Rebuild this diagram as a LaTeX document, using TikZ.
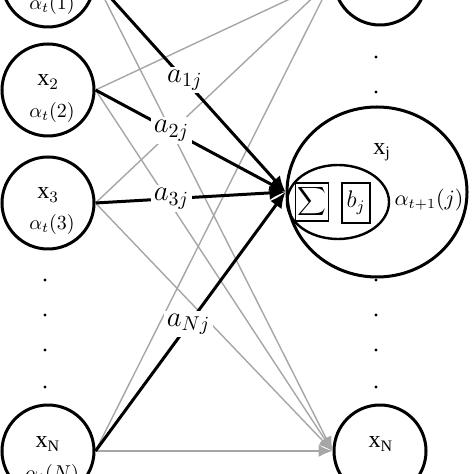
\documentclass[tikz,border=0pt]{standalone}
\usepackage{fontspec}
\setmainfont{Liberation Serif}
\usetikzlibrary{arrows.meta,shapes.geometric}

\begin{document}
\begin{tikzpicture}[x=0.5pt,y=-0.5pt,
    state/.style={draw,circle,line width=1.5pt,minimum size=46pt,inner sep=0pt},
    coef/.style={fill=white,inner sep=1.5pt,font=\fontsize{14.5}{16}\selectfont},
    lbl/.style={inner sep=0pt,font=\fontsize{12}{14}\selectfont},
    prob/.style={inner sep=0pt,font=\fontsize{10}{12}\selectfont},
    thickarr/.style={line width=1.5pt,-{Latex[length=8pt,width=7pt]}},
    grayarr/.style={draw=gray!70,line width=0.7pt,-{Latex[length=7pt,width=6pt,fill=gray!70]}},
    grayline/.style={draw=gray!70,line width=0.7pt},
    opbox/.style={draw,line width=0.8pt,inner sep=1pt}]
    \clip (0,0) rectangle (474,474);
    % left column
    \node[state] (x1) at (48,-19) {};
    \node[state] (x2) at (48,90) {};
    \node[state] (x3) at (48,203) {};
    \node[state] (xN) at (48,451) {};
    \node[lbl] (x1name) at (48,-26) {x$_1$};
    \node[prob] (x1prob) at (52,5) {$\alpha_t(1)$};
    \node[lbl] (x2name) at (48,82) {x$_2$};
    \node[prob] (x2prob) at (52,113) {$\alpha_t(2)$};
    \node[lbl] (x3name) at (48,195) {x$_3$};
    \node[prob] (x3prob) at (52,225) {$\alpha_t(3)$};
    \node[lbl] (xNname) at (48,444) {x$_\mathrm{N}$};
    \node[prob] (xNprob) at (52,474) {$\alpha_t(N)$};
    % right column
    \node[state] (y1) at (380,-21) {};
    \node[state] (yN) at (380,451) {};
    \node[lbl] (yNname) at (381,444) {x$_\mathrm{N}$};
    \node[draw,ellipse,line width=1.5pt,minimum width=90pt,minimum height=85pt,inner sep=0pt] (xj) at (377,192) {};
    \node[draw,ellipse,line width=1.2pt,minimum width=51pt,minimum height=37pt,inner sep=0pt] (inner) at (338,202) {};
    \node[opbox,minimum width=16pt,minimum height=19pt,font=\Large] (sum) at (312,202) {$\displaystyle\sum$};
    \node[opbox,minimum width=14pt,minimum height=20pt,font=\fontsize{12}{14}\selectfont] (bj) at (356,203) {$b_j$};
    \node[lbl] (xjname) at (382,152) {x$_\mathrm{j}$};
    \node[prob,font=\fontsize{10.5}{12}\selectfont] (xjprob) at (429,200) {$\alpha_{t+1}(j)$};
    % dots
    \foreach \y in {280,315,350,387} {
        \fill (45,\y) circle (0.8pt);
        \fill (376,\y) circle (0.8pt);
    }
    \foreach \y in {57,92}
        \fill (376,\y) circle (0.8pt);
    % other transitions
    \foreach \n in {x2,x3,xN}
        \draw[grayline] (\n.east) -- (y1.west);
    \foreach \n in {x1,x2,x3,xN}
        \draw[grayarr] (\n.east) -- (yN.west);
    % transitions into x_j
    \draw[thickarr] (x1.east) -- node[coef,pos=.47] (a1) {$a_{1j}$} (xj.west);
    \draw[thickarr] (x2.east) -- node[coef,pos=.40] (a2) {$a_{2j}$} (xj.west);
    \draw[thickarr] (x3.east) -- node[coef,pos=.40] (a3) {$a_{3j}$} (xj.west);
    \draw[thickarr] (xN.east) -- node[coef,pos=.49] (aN) {$a_{Nj}$} (xj.west);
\end{tikzpicture}
\end{document}
